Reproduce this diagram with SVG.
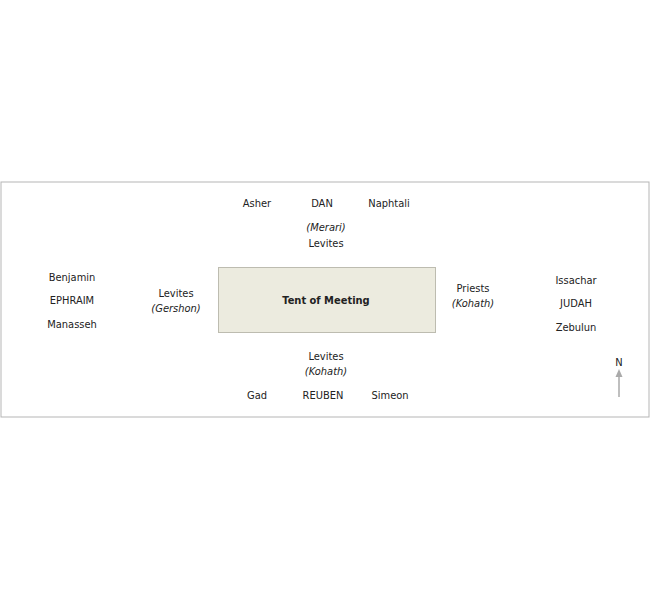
<svg xmlns="http://www.w3.org/2000/svg" width="650" height="600" viewBox="0 0 650 600">
<style>
text{font-family:"DejaVu Sans Condensed","Liberation Sans",sans-serif;font-size:11px;fill:#222;text-anchor:middle}
.i{font-style:italic}
.b{font-weight:bold}
</style>
<rect x="1" y="182" width="648" height="235" fill="#fff" stroke="#b5b5b5" stroke-width="1"/>
<g id="tent"><rect x="218.5" y="267.5" width="217" height="65" fill="#ecebdf" stroke="#bdbcb0"/><text class="b" x="326" y="304">Tent of Meeting</text></g>
<g id="north"><text x="257" y="207">Asher</text><text x="322" y="207">DAN</text><text x="389" y="207">Naphtali</text></g>
<g id="merari"><text class="i" x="326" y="231">(Merari)</text><text x="326" y="247">Levites</text></g>
<g id="kohath-s"><text x="326" y="360">Levites</text><text class="i" x="326" y="375">(Kohath)</text></g>
<g id="south"><text x="257" y="399">Gad</text><text x="323" y="399">REUBEN</text><text x="390" y="399">Simeon</text></g>
<g id="west"><text x="72" y="281">Benjamin</text><text x="72" y="304">EPHRAIM</text><text x="72" y="328">Manasseh</text></g>
<g id="gershon"><text x="176" y="297">Levites</text><text class="i" x="176" y="312">(Gershon)</text></g>
<g id="priests"><text x="473" y="292">Priests</text><text class="i" x="473" y="307">(Kohath)</text></g>
<g id="east"><text x="576" y="284">Issachar</text><text x="576" y="307">JUDAH</text><text x="576" y="331">Zebulun</text></g>
<g id="connectors"><text x="619" y="366">N</text><line x1="619" y1="397" x2="619" y2="376" stroke="#aaa" stroke-width="1.5"/><path d="M615.5,377 L619,369 L622.5,377 Z" fill="#aaa"/></g>
</svg>
